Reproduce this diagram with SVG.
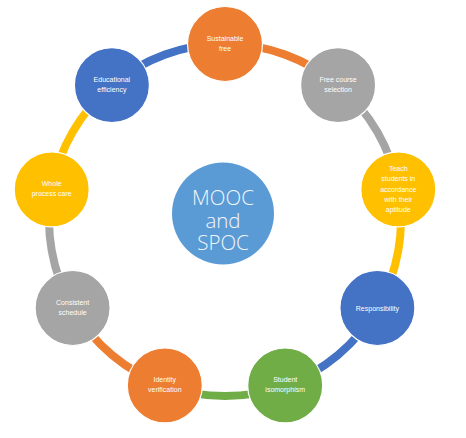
<svg xmlns="http://www.w3.org/2000/svg" width="466" height="438" viewBox="0 0 466 438">
<style>
.arc{fill:none;stroke-width:8}
.n{stroke:#fff;stroke-width:1.2}
.t{font-family:"Liberation Sans",Arial,sans-serif;font-size:7px;fill:#fff;text-anchor:middle}
.c{font-family:"Open Sans","Liberation Sans",sans-serif;font-weight:300;font-size:20.5px;fill:#F2F6FC;text-anchor:middle}
</style>
<rect width="466" height="438" fill="#fff"/>
<g id="connectors">
<path class="arc" stroke="#4472C4" d="M111.9,85.2 A176,176 0 0 1 225,44"/>
<path class="arc" stroke="#ED7D31" d="M225,44 A176,176 0 0 1 338.1,85.2"/>
<path class="arc" stroke="#A5A5A5" d="M338.1,85.2 A176,176 0 0 1 398.3,189.4"/>
<path class="arc" stroke="#FFC000" d="M398.3,189.4 A176,176 0 0 1 377.4,308"/>
<path class="arc" stroke="#4472C4" d="M377.4,308 A176,176 0 0 1 285.2,385.4"/>
<path class="arc" stroke="#70AD47" d="M285.2,385.4 A176,176 0 0 1 164.8,385.4"/>
<path class="arc" stroke="#ED7D31" d="M164.8,385.4 A176,176 0 0 1 72.6,308"/>
<path class="arc" stroke="#A5A5A5" d="M72.6,308 A176,176 0 0 1 51.7,189.4"/>
<path class="arc" stroke="#FFC000" d="M51.7,189.4 A176,176 0 0 1 111.9,85.2"/>
</g>
<g id="center">
<circle cx="223" cy="213.5" r="51" fill="#5B9BD5"/>
<text class="c" x="223" y="205">MOOC</text>
<text class="c" x="223" y="227.5">and</text>
<text class="c" x="223" y="250">SPOC</text>
</g>
<g id="n1"><circle class="n" cx="225" cy="44" r="37.5" fill="#ED7D31"/>
<text class="t" x="225" y="41">Sustainable</text><text class="t" x="225" y="51">free</text></g>
<g id="n2"><circle class="n" cx="338.1" cy="85.2" r="37.5" fill="#A5A5A5"/>
<text class="t" x="338.1" y="82">Free course</text><text class="t" x="338.1" y="92">selection</text></g>
<g id="n3"><circle class="n" cx="398.3" cy="189.4" r="37.5" fill="#FFC000"/>
<text class="t" x="398.3" y="171">Teach</text><text class="t" x="398.3" y="181">students in</text><text class="t" x="398.3" y="192">accordance</text><text class="t" x="398.3" y="202">with their</text><text class="t" x="398.3" y="212">aptitude</text></g>
<g id="n4"><circle class="n" cx="377.4" cy="308" r="37.5" fill="#4472C4"/>
<text class="t" x="377.4" y="310.5">Responsibility</text></g>
<g id="n5"><circle class="n" cx="285.2" cy="385.4" r="37.5" fill="#70AD47"/>
<text class="t" x="285.2" y="382">Student</text><text class="t" x="285.2" y="392">isomorphism</text></g>
<g id="n6"><circle class="n" cx="164.8" cy="385.4" r="37.5" fill="#ED7D31"/>
<text class="t" x="164.8" y="382">Identity</text><text class="t" x="164.8" y="392">verification</text></g>
<g id="n7"><circle class="n" cx="72.6" cy="308" r="37.5" fill="#A5A5A5"/>
<text class="t" x="72.6" y="305">Consistent</text><text class="t" x="72.6" y="315">schedule</text></g>
<g id="n8"><circle class="n" cx="51.7" cy="189.4" r="37.5" fill="#FFC000"/>
<text class="t" x="51.7" y="186">Whole</text><text class="t" x="51.7" y="196">process care</text></g>
<g id="n9"><circle class="n" cx="111.9" cy="85.2" r="37.5" fill="#4472C4"/>
<text class="t" x="111.9" y="82">Educational</text><text class="t" x="111.9" y="92">efficiency</text></g>
</svg>
